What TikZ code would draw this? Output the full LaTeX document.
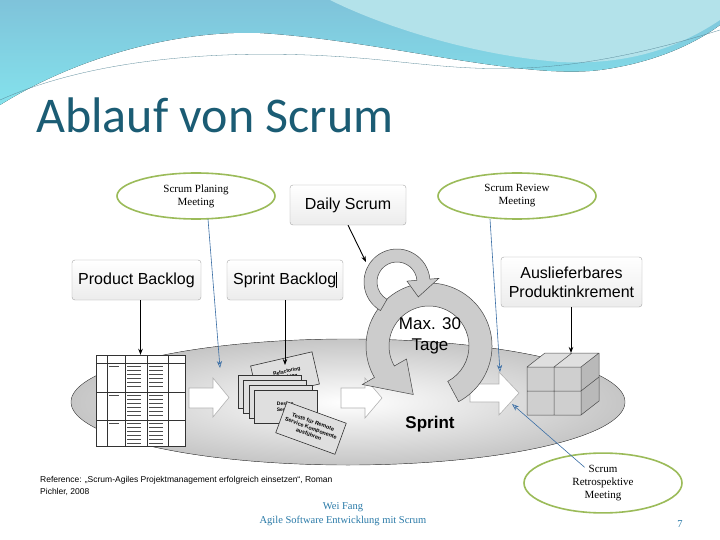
\documentclass[tikz,border=0pt]{standalone}
\usepackage{fontspec}
\setmainfont{Liberation Serif}
\newfontfamily\titlefont{Carlito}
\newfontfamily\boxfont{Liberation Sans}
\usepackage{tikz}
\usepackage{xcolor}
\usetikzlibrary{positioning,shapes,arrows.meta,calc}

\definecolor{titleteal}{HTML}{1B5C74}
\definecolor{footblue}{HTML}{2A7AA8}
\definecolor{olive}{HTML}{9BBB59}
\definecolor{linkblue}{HTML}{3A6EA5}
\definecolor{waveA}{HTML}{7FC3DA}
\definecolor{waveB}{HTML}{84E2EC}
\definecolor{waveC}{HTML}{B3E2EA}

\tikzset{
  step box/.style={draw=gray!70, rounded corners=3pt, top color=white, bottom color=gray!15,
    font=\boxfont\fontsize{16}{19}\selectfont, align=center, inner sep=5pt},
  meeting/.style={ellipse, draw=olive, line width=1.6pt, fill=white,
    font=\fontsize{11}{13}\selectfont, align=center, minimum width=158pt, minimum height=46pt},
  feed/.style={-{Stealth[length=6pt]}, line width=0.9pt},
  hint/.style={-{Stealth[length=7pt,open]}, linkblue, line width=0.6pt},
  block arrow/.style={fill=white, draw=gray!60, line width=0.6pt},
  ring/.style={fill=gray!40, draw=gray!55!black, line width=0.5pt},
  card/.style={draw=black!80, fill=gray!25, line width=0.6pt, minimum width=63pt, minimum height=33pt,
    inner sep=1pt, font=\boxfont\fontsize{5}{6}\selectfont\bfseries, align=center}
}

\begin{document}
\begin{tikzpicture}[x=1pt,y=-1pt]
\useasboundingbox (0,0) rectangle (720,540);
\fill[white] (0,0) rectangle (720,540);

% top wave
\fill[top color=waveA, bottom color=waveB] (0,0) -- (0,105) .. controls (80,55) and (180,30) .. (260,33)
  .. controls (380,40) and (520,80) .. (600,70) .. controls (660,62) and (700,40) .. (720,25) -- (720,0) -- cycle;
\fill[waveC] (330,0) .. controls (380,25) and (470,55) .. (560,62) .. controls (640,66) and (690,40) .. (720,20) -- (720,0) -- cycle;
\draw[waveA!70!black, line width=0.3pt] (0,100) .. controls (100,55) and (250,45) .. (400,62) .. controls (480,70) and (560,80) .. (720,30);

% title
\node[anchor=base west, text=titleteal, font=\titlefont\fontsize{50}{56}\selectfont, inner sep=0pt] (title) at (36,133) {Ablauf von Scrum};

% sprint area
\fill[inner color=white, outer color=gray!45] (348,402) ellipse (277pt and 63pt);
\draw[gray!60!black, line width=0.4pt] (348,402) ellipse (277pt and 63pt);

% product backlog table
\fill[white] (96,355) rectangle (185,446);
\draw[black!80, line width=0.6pt] (96,355) rectangle (185,446);
\foreach \x in {107,125,147,168} \draw[black!80, line width=0.4pt] (\x,355) -- (\x,446);
\foreach \y in {363,392,420} \draw[black!80, line width=0.4pt] (96,\y) -- (185,\y);
\foreach \y in {363,392,420} {
  \foreach \dy in {3,7,11,15,19,23} {
    \draw[black!70, line width=0.8pt] (127,\y+\dy) -- (141,\y+\dy);
    \draw[black!70, line width=0.8pt] (149,\y+\dy) -- (163,\y+\dy);
  }
  \draw[black!70, line width=0.8pt] (109,\y+3) -- (119,\y+3);
}
\node[inner sep=0pt, minimum width=89pt, minimum height=91pt] (table) at (140.5,400.5) {};

% sprint backlog cards
\node[card, rotate=13] (card0) at (285,375) {\quad Refactoring\\\quad Backlog};
\node[card, anchor=north west] (card1) at (238,375) {};
\node[card, anchor=north west] (card2) at (243,380) {};
\node[card, anchor=north west] (card3) at (249,385) {};
\node[card, anchor=north west, align=left] (card4) at (254,390) {Design\\Service\hspace{30pt}};
\node[card, rotate=-20, font=\boxfont\fontsize{5.5}{6.5}\selectfont\bfseries] (card5) at (311,428) {Tests für Remote\\Service Komponente\\ausführen};
\coordinate (cards) at (285,365);

% block arrows
\draw[block arrow] (189,388) -- (213,388) -- (213,378) -- (229,397.5) -- (213,417) -- (213,408) -- (189,408) -- cycle;
\draw[block arrow] (341,388) -- (365,388) -- (365,378) -- (382,398) -- (365,418) -- (365,408) -- (341,408) -- cycle;
\draw[block arrow] (470,384) -- (499,384) -- (499,372) -- (519,393) -- (499,415) -- (499,402) -- (470,402) -- cycle;

% sprint cycle
\coordinate (cycle) at (429,346);
\draw[ring] ($(cycle)+(62:63)$) arc[start angle=62, end angle=-210, radius=63]
  -- ($(cycle)+(-210:77)$) -- ($(cycle)+(-252:51)$) -- ($(cycle)+(-210:26)$) -- ($(cycle)+(-210:40)$)
  arc[start angle=-210, end angle=62, radius=40] -- cycle;
\coordinate (loop) at (397,282);
\draw[ring] ($(loop)+(-240:33)$) arc[start angle=-240, end angle=-5, radius=33]
  -- ($(loop)+(-5:42)$) -- ($(loop)+(35:26)$) -- ($(loop)+(-5:10)$) -- ($(loop)+(-5:20)$)
  arc[start angle=-5, end angle=-240, radius=20] -- cycle;
\node[font=\boxfont\fontsize{17}{21}\selectfont, align=center] (days) at (430,336) {Max. 30\\Tage};
\node[font=\boxfont\fontsize{17}{20}\selectfont\bfseries] (sprint) at (430,424) {Sprint};

% product increment
\fill[gray!25] (527,367) -- (545,353) -- (599,353) -- (581,367) -- cycle;
\fill[gray!55] (581,367) -- (599,353) -- (599,401) -- (581,415) -- cycle;
\fill[gray!38] (527,367) rectangle (581,415);
\draw[black!70, line width=0.5pt] (527,367) -- (545,353) -- (599,353) -- (599,401) -- (581,415) -- (527,415) -- cycle
  (527,367) -- (581,367) -- (599,353) (581,367) -- (581,415)
  (554,367) -- (554,415) (527,391) -- (581,391) (554,367) -- (572,353) (581,391) -- (599,377);
\coordinate (cube) at (571,353);

% steps
\node[step box, minimum width=129pt, minimum height=40pt] (product) at (136.5,280) {Product Backlog};
\node[step box, minimum width=116pt, minimum height=40pt] (backlog) at (285,280) {Sprint Backlog\rule[-3pt]{0.6pt}{16pt}};
\node[step box, minimum width=116pt, minimum height=40pt] (daily) at (348,205) {Daily Scrum};
\node[step box, minimum width=141pt, minimum height=50pt] (increment) at (571.5,282) {Auslieferbares\\Produktinkrement};

\draw[feed] (product.south -| table.north) -- (table.north);
\draw[feed] (backlog.south) -- (cards);
\draw[feed] (daily.south) -- (366,262);
\draw[feed] (increment.south -| cube) -- (cube);

% meetings
\node[meeting] (planning) at (196,196) {Scrum Planing\\Meeting};
\node[meeting] (review) at (517,196) {Scrum Review\\Meeting};
\node[meeting] (retro) at (603,483) {Scrum\\Retrospektive\\Meeting};
\coordinate (plan end) at (220,368);
\coordinate (review end) at (500,372);
\coordinate (retro end) at (512,404);
\draw[hint] (208,219) -- (plan end);
\draw[hint] (490,219) -- (review end);
\draw[hint] (retro.north west) ++(38,6) coordinate (retro start) -- (retro end);

% footer
\node[anchor=north west, align=left, inner sep=0pt, font=\boxfont\fontsize{8.5}{12}\selectfont] (source) at (40,476)
  {Reference: „Scrum-Agiles Projektmanagement erfolgreich einsetzen“, Roman\\Pichler, 2008};
\node[text=footblue, font=\fontsize{10.5}{14}\selectfont, align=center] (footer) at (343,514) {Wei Fang\\Agile Software Entwicklung mit Scrum};
\node[text=footblue, font=\fontsize{10.5}{12}\selectfont] (page) at (680,524) {7};
\end{tikzpicture}
\end{document}
